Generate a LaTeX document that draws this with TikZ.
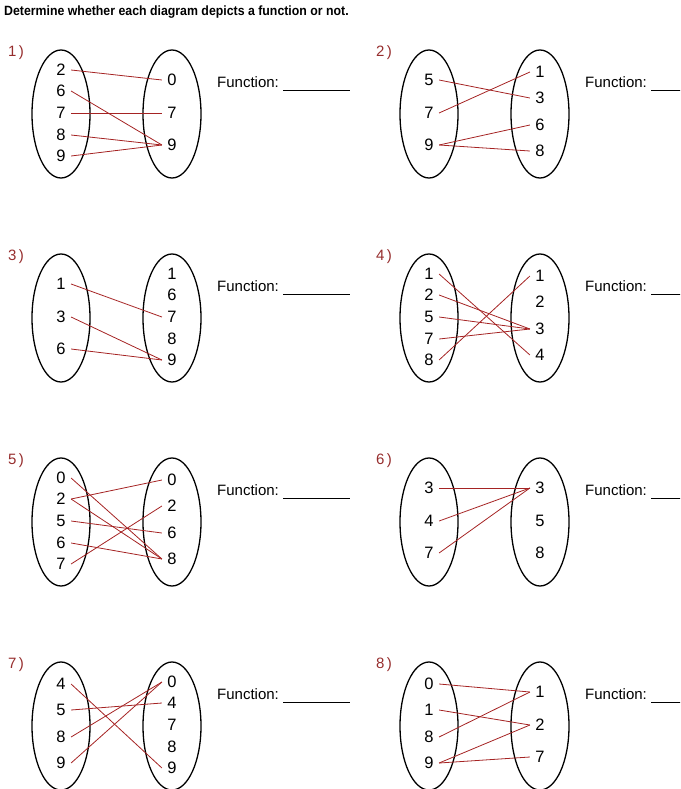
\documentclass[tikz,border=0pt]{standalone}
\usepackage{fontspec}
\setmainfont{Liberation Sans}
\usetikzlibrary{positioning}
\definecolor{mapred}{RGB}{165,35,35}
\definecolor{tagred}{RGB}{150,45,45}
\begin{document}
\begin{tikzpicture}[x=1pt,y=-1pt,
    oval/.style={draw, line width=1.3pt},
    num/.style={font=\fontsize{16.5}{16}\selectfont, inner xsep=5.5pt, inner ysep=2pt, outer sep=0pt},
    map/.style={draw=mapred, line width=0.8pt},
    tag/.style={text=tagred, font=\fontsize{15}{15}\selectfont},
    fn/.style={anchor=west, font=\fontsize{15}{15}\selectfont, inner sep=0pt},
    blank/.style={draw, line width=0.9pt}]

    % page
    \useasboundingbox (0,0) rectangle (680,789);
    \clip (0,0) rectangle (680,789);

    % title
    \node[anchor=west, inner sep=0pt, xscale=0.92, font=\bfseries\fontsize{13.4}{13}\selectfont] (title) at (4,12)
        {Determine whether each diagram depicts a function or not.};

    % the eight frames: number, two ovals, answer line
    \foreach \n/\dx/\dy in {1/0/0,2/368/0,3/0/204,4/368/204,5/0/408,6/368/408,7/0/612,8/368/612}{
        \begin{scope}[shift={(\dx,\dy)}]
            \node[tag] (tag\n) at (16,53) {\n\,)};
            \draw[oval] (61,114) ellipse [x radius=29pt, y radius=64pt];   % domain
            \draw[oval] (172,114) ellipse [x radius=29pt, y radius=64pt];  % range
            \node[fn] (fn\n) at (217,82) {Function:};
            \draw[blank] ([shift={(4,3)}]fn\n.base east) -- ++(67,0);
        \end{scope}
    }

    % 1)
    \foreach \v/\y in {2/70,6/91,7/113,8/135,9/156} \node[num] (d1l\v) at (61,\y) {\v};
    \foreach \v/\y in {0/80,7/113,9/145} \node[num] (d1r\v) at (172,\y) {\v};
    \foreach \a/\b in {2/0,6/9,7/7,8/9,9/9} \draw[map] (d1l\a.east) -- (d1r\b.west);

    % 2)
    \begin{scope}[shift={(368,0)}]
        \foreach \v/\y in {5/80,7/113,9/145} \node[num] (d2l\v) at (61,\y) {\v};
        \foreach \v/\y in {1/72,3/98,6/125,8/151} \node[num] (d2r\v) at (172,\y) {\v};
    \end{scope}
    \foreach \a/\b in {5/3,7/1,9/6,9/8} \draw[map] (d2l\a.east) -- (d2r\b.west);

    % 3)
    \begin{scope}[shift={(0,204)}]
        \foreach \v/\y in {1/80,3/113,6/145} \node[num] (d3l\v) at (61,\y) {\v};
        \foreach \v/\y in {1/70,6/91,7/113,8/135,9/156} \node[num] (d3r\v) at (172,\y) {\v};
    \end{scope}
    \foreach \a/\b in {1/7,3/9,6/9} \draw[map] (d3l\a.east) -- (d3r\b.west);

    % 4)
    \begin{scope}[shift={(368,204)}]
        \foreach \v/\y in {1/70,2/91,5/113,7/135,8/156} \node[num] (d4l\v) at (61,\y) {\v};
        \foreach \v/\y in {1/72,2/98,3/125,4/151} \node[num] (d4r\v) at (172,\y) {\v};
    \end{scope}
    \foreach \a/\b in {1/4,2/3,5/3,7/3,8/1} \draw[map] (d4l\a.east) -- (d4r\b.west);

    % 5)
    \begin{scope}[shift={(0,408)}]
        \foreach \v/\y in {0/70,2/91,5/113,6/135,7/156} \node[num] (d5l\v) at (61,\y) {\v};
        \foreach \v/\y in {0/72,2/98,6/125,8/151} \node[num] (d5r\v) at (172,\y) {\v};
    \end{scope}
    \foreach \a/\b in {0/8,2/0,2/8,5/6,6/8,7/2} \draw[map] (d5l\a.east) -- (d5r\b.west);

    % 6)
    \begin{scope}[shift={(368,408)}]
        \foreach \v/\y in {3/80,4/113,7/145} \node[num] (d6l\v) at (61,\y) {\v};
        \foreach \v/\y in {3/80,5/113,8/145} \node[num] (d6r\v) at (172,\y) {\v};
    \end{scope}
    \foreach \a/\b in {3/3,4/3,7/3} \draw[map] (d6l\a.east) -- (d6r\b.west);

    % 7)
    \begin{scope}[shift={(0,612)}]
        \foreach \v/\y in {4/72,5/98,8/125,9/151} \node[num] (d7l\v) at (61,\y) {\v};
        \foreach \v/\y in {0/70,4/91,7/113,8/135,9/156} \node[num] (d7r\v) at (172,\y) {\v};
    \end{scope}
    \foreach \a/\b in {4/9,5/4,8/0,9/0} \draw[map] (d7l\a.east) -- (d7r\b.west);

    % 8)
    \begin{scope}[shift={(368,612)}]
        \foreach \v/\y in {0/72,1/98,8/125,9/151} \node[num] (d8l\v) at (61,\y) {\v};
        \foreach \v/\y in {1/80,2/113,7/145} \node[num] (d8r\v) at (172,\y) {\v};
    \end{scope}
    \foreach \a/\b in {0/1,1/2,8/1,9/2,9/7} \draw[map] (d8l\a.east) -- (d8r\b.west);

\end{tikzpicture}
\end{document}
